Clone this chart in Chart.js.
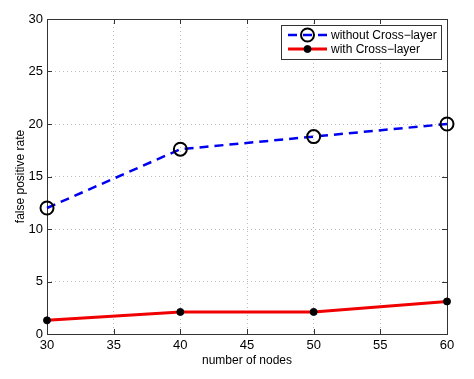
<!DOCTYPE html>
<html>
<head>
<meta charset="utf-8">
<script src="https://cdn.jsdelivr.net/npm/chart.js@4/dist/chart.umd.min.js"></script>
<style>
html,body{margin:0;padding:0;background:#fff;}
#wrap{width:474px;height:379px;}
</style>
</head>
<body>
<div id="wrap"><canvas id="c" width="474" height="379"></canvas></div>
<script>
const nodes = [30, 40, 50, 60];
const withoutCross = [12, 17.6, 18.8, 20];
const withCross = [1.3, 2.1, 2.1, 3.1];
const seriesNames = ['without Cross\u2212layer', 'with Cross\u2212layer'];
const xTicks = [30, 35, 40, 45, 50, 55, 60];
const yTicks = [0, 5, 10, 15, 20, 25, 30];
const xTitle = 'number of nodes';
const yTitle = 'false positive rate';

const FONT = '"Liberation Sans", Arial, Helvetica, sans-serif';

const boxPlugin = {
  id: 'matlabBox',
  beforeDatasetsDraw(chart) {
    const {ctx, chartArea: a, scales} = chart;
    ctx.save();
    ctx.strokeStyle = '#333';
    ctx.lineWidth = 1;
    const tl = 5;
    ctx.beginPath();
    scales.x.ticks.forEach(t => {
      const px = Math.round(scales.x.getPixelForValue(t.value)) + 0.5;
      ctx.moveTo(px, a.bottom); ctx.lineTo(px, a.bottom - tl);
      ctx.moveTo(px, a.top); ctx.lineTo(px, a.top + tl);
    });
    scales.y.ticks.forEach(t => {
      const py = Math.round(scales.y.getPixelForValue(t.value)) + 0.5;
      ctx.moveTo(a.left, py); ctx.lineTo(a.left + tl, py);
      ctx.moveTo(a.right, py); ctx.lineTo(a.right - tl, py);
    });
    ctx.stroke();
    ctx.strokeRect(Math.round(a.left) + 0.5, Math.round(a.top) + 0.5,
      Math.round(a.right - a.left), Math.round(a.bottom - a.top));
    ctx.restore();
  },
  afterDraw(chart) {
    const {ctx, chartArea: a} = chart;
    const ds = chart.data.datasets;
    const bx = a.right - 166, by = a.top + 6, bw = 160, bh = 34;
    ctx.save();
    ctx.fillStyle = '#fff';
    ctx.fillRect(bx, by, bw, bh);
    ctx.strokeStyle = '#333';
    ctx.lineWidth = 1;
    ctx.strokeRect(bx + 0.5, by + 0.5, bw, bh);
    ds.forEach((d, i) => {
      const cy = by + 10 + i * 14;
      const x0 = bx + 7, x1 = bx + 46, mx = (x0 + x1) / 2;
      ctx.strokeStyle = d.borderColor;
      ctx.lineWidth = d.borderWidth;
      ctx.setLineDash(d.borderDash || []);
      ctx.beginPath();
      ctx.moveTo(x0, cy); ctx.lineTo(x1, cy);
      ctx.stroke();
      ctx.setLineDash([]);
      ctx.beginPath();
      ctx.arc(mx, cy, d.pointRadius, 0, Math.PI * 2);
      if (d.pointBackgroundColor && d.pointBackgroundColor !== 'rgba(0,0,0,0)') {
        ctx.fillStyle = d.pointBackgroundColor; ctx.fill();
      }
      ctx.strokeStyle = d.pointBorderColor;
      ctx.lineWidth = d.pointBorderWidth;
      ctx.stroke();
      ctx.fillStyle = '#000';
      ctx.font = '12px ' + FONT;
      ctx.textBaseline = 'middle';
      ctx.fillText(d.label, x1 + 4, cy + 1);
    });
    ctx.restore();
  }
};

new Chart(document.getElementById('c'), {
  type: 'line',
  data: {
    datasets: [
      {
        label: seriesNames[0],
        data: nodes.map((x, i) => ({x, y: withoutCross[i]})),
        borderColor: '#0000f0',
        borderWidth: 2.5,
        borderDash: [9, 6],
        pointRadius: 6.5,
        pointBorderWidth: 2,
        pointBorderColor: '#000',
        pointBackgroundColor: 'rgba(0,0,0,0)',
        tension: 0,
        fill: false,
        clip: false
      },
      {
        label: seriesNames[1],
        data: nodes.map((x, i) => ({x, y: withCross[i]})),
        borderColor: '#f00000',
        borderWidth: 3,
        pointRadius: 3.5,
        pointBorderWidth: 1,
        pointBorderColor: '#000',
        pointBackgroundColor: '#000',
        tension: 0,
        fill: false,
        clip: false
      }
    ]
  },
  options: {
    responsive: false,
    animation: false,
    layout: {padding: {top: 19, right: 27, bottom: 0, left: 0}},
    plugins: {legend: {display: false}, tooltip: {enabled: false}},
    scales: {
      x: {
        type: 'linear',
        min: 30, max: 60,
        afterBuildTicks: s => { s.ticks = xTicks.map(v => ({value: v})); },
        afterFit: s => { s.height = 45; },
        ticks: {color: '#000', font: {family: FONT, size: 13}, padding: 4, maxRotation: 0},
        grid: {color: '#bdbdbd', drawTicks: false, lineWidth: 1},
        border: {display: false, dash: [1, 3]},
        title: {display: true, text: xTitle, color: '#000', font: {family: FONT, size: 12}, padding: {top: 0, bottom: 11}}
      },
      y: {
        type: 'linear',
        min: 0, max: 30,
        afterBuildTicks: s => { s.ticks = yTicks.map(v => ({value: v})); },
        afterFit: s => { s.width = 47; },
        ticks: {color: '#000', font: {family: FONT, size: 13}, padding: 4},
        grid: {color: '#bdbdbd', drawTicks: false, lineWidth: 1},
        border: {display: false, dash: [1, 3]},
        title: {display: true, text: yTitle, color: '#000', font: {family: FONT, size: 12}, padding: {top: 13, bottom: 0}}
      }
    }
  },
  plugins: [boxPlugin]
});
</script>
</body>
</html>
